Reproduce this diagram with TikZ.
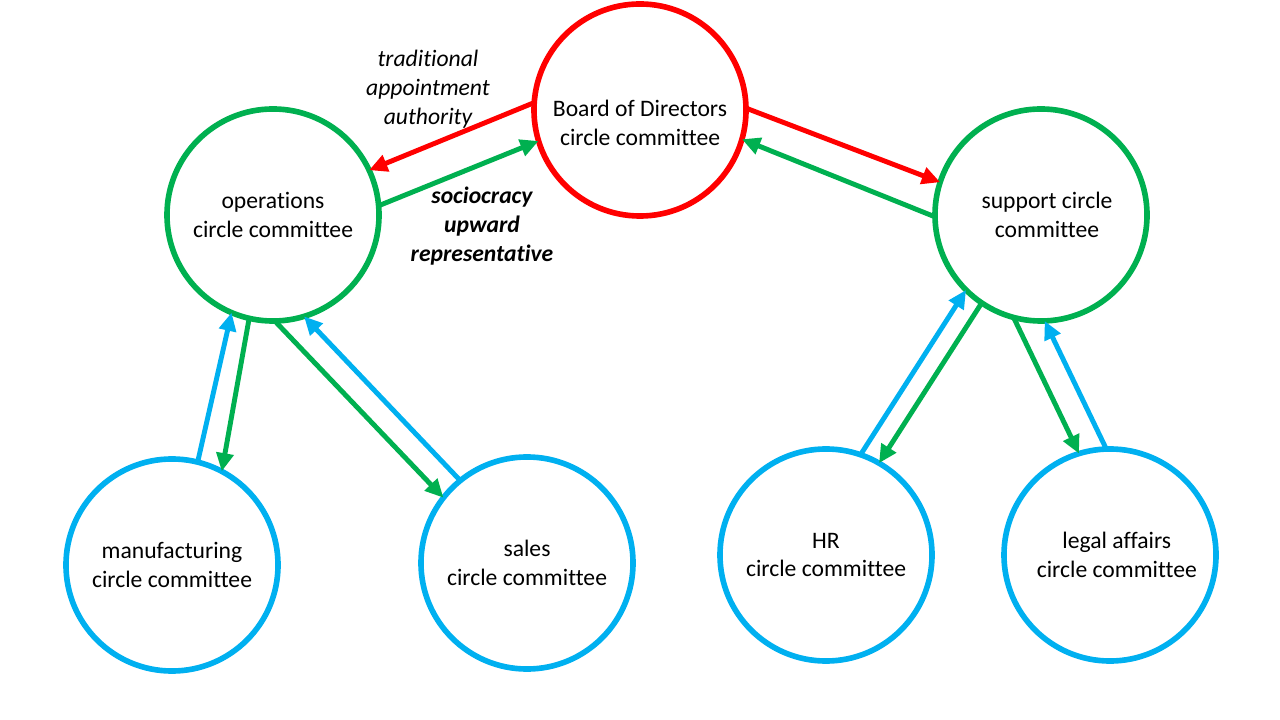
\documentclass[tikz,border=0pt]{standalone}
\usepackage{fontspec}
\setmainfont{Carlito}[Ligatures=NoCommon]
\usetikzlibrary{arrows.meta}

\definecolor{boardred}{RGB}{255,0,0}
\definecolor{circgreen}{RGB}{0,176,80}
\definecolor{circblue}{RGB}{0,176,240}

\tikzset{
  circ/.style={circle, draw=#1, line width=4pt, minimum size=5.3cm, inner sep=0pt, outer sep=0pt,
    align=center, font=\fontsize{16.8}{20.6}\selectfont, text=black},
  link/.style={line width=3.5pt, -{Triangle[length=13pt,width=12pt]}},
  note/.style={align=center, font=\fontsize{16.8}{20.6}\selectfont}
}

\begin{document}
\begin{tikzpicture}[x=0.025cm, y=-0.025cm]
    \useasboundingbox (0,0) rectangle (1280,720);

    % circles
    \node[circ=boardred, label={[note, yshift=-0.33cm]center:Board of Directors\\circle committee}] (board) at (640,110) {};
    \node[circ=circgreen] (ops) at (273,215) {operations\\circle committee};
    \node[circ=circgreen, label={[note, xshift=0.15cm]center:support circle\\committee}] (support) at (1041,215) {};
    \node[circ=circblue] (manuf) at (172,565) {manufacturing\\circle committee};
    \node[circ=circblue] (sales) at (527,563) {sales\\circle committee};
    \node[circ=circblue] (hr) at (826,555) {HR\\circle committee};
    \node[circ=circblue, label={[note, xshift=0.17cm]center:legal affairs\\circle committee}] (legal) at (1110,555) {};

    % labels
    \node[note, font=\fontsize{16.8}{20.6}\selectfont\itshape] (trad) at (428,89) {traditional\\appointment\\authority};
    \node[note, font=\fontsize{16.8}{20.6}\selectfont\bfseries\itshape] (socio) at (482,226) {sociocracy\\upward\\representative};

    % top level
    \draw[link, boardred] (board.176) -- (ops.25);
    \draw[link, circgreen] (ops.5) -- (board.197);
    \draw[link, boardred] (board.1) -- (support.162);
    \draw[link, circgreen] (support.181) -- (board.-16);

    % operations side
    \draw[link, circblue] (manuf.76) -- (ops.247);
    \draw[link, circgreen] (ops.257) -- (manuf.62);
    \draw[link, circgreen] (ops.271) -- (sales.142);
    \draw[link, circblue] (sales.129) -- (ops.287);

    % support side
    \draw[link, circblue] (hr.71) -- (support.225);
    \draw[link, circgreen] (support.236) -- (hr.60);
    \draw[link, circgreen] (support.255) -- (legal.107);
    \draw[link, circblue] (legal.92) -- (support.272);
\end{tikzpicture}
\end{document}
